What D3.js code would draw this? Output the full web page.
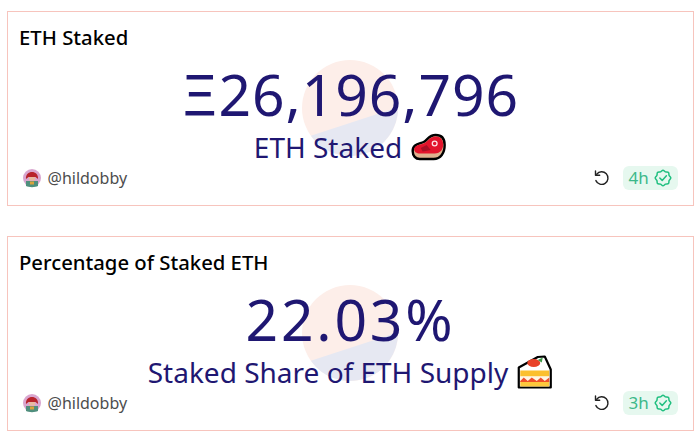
<!DOCTYPE html>
<html>
<head>
<meta charset="utf-8">
<script src="https://cdn.jsdelivr.net/npm/d3@7"></script>
<style>
  html, body { margin: 0; padding: 0; background: #fff; }
  svg { display: block; }
  text { font-family: "Noto Sans", sans-serif; }
</style>
</head>
<body>
<svg id="chart" width="699" height="438"></svg>
<script>
// Card contents
const titles = ["ETH Staked", "Percentage of Staked ETH"];
const counterValues = ["Ξ26,196,796", "22.03%"];
const counterLabels = ["ETH Staked", "Staked Share of ETH Supply"];
const emojis = ["steak", "cake"];
const authors = ["@hildobby", "@hildobby"];
const ages = ["4h", "3h"];
// Noto digits run a bit narrower than the original font
const valueSpacing = [0.9, 2.8];

const cardX = 7.5, cardW = 686, cardH = 194;
const cardTops = d3.scaleOrdinal().domain(titles).range([11.5, 236.5]);

const svg = d3.select("#chart");

function drawLogo(g) {
  const r = 48;
  g.append("circle").attr("r", r).attr("fill", "#fdeee9");
  // lower segment, cut off by a straight chord
  const p = d3.path();
  p.arc(0, 0, r, -1 * Math.PI / 180, 144.6 * Math.PI / 180);
  p.closePath();
  g.append("path").attr("d", p.toString()).attr("fill", "#e6e8f2");
}

function drawSteak(g) {
  g.append("path")
    .attr("d", "M1 17 C1 10 8 10 12 8 C16 6 17 1 24 1 C30 1 33 5 33 11 C33 19 29 25 22 25 L8 25 C4 25 1 22 1 17 Z")
    .attr("fill", "#dfb28f").attr("stroke", "#000").attr("stroke-width", 2.4);
  g.append("path")
    .attr("d", "M2.5 15 C3 11 8 11 12 9.5 C16 8 18 2.5 24 2.5 C29 2.5 31.5 6 31.5 10.5 C31.5 15 29 19.5 23 19.5 L8 19.5 C5 19.5 2.5 18 2.5 15 Z")
    .attr("fill", "#e3142c");
  g.append("circle").attr("cx", 23).attr("cy", 9.5).attr("r", 2.4)
    .attr("fill", "none").attr("stroke", "#fde3e3").attr("stroke-width", 1.3);
  g.append("path").attr("d", "M9 14 L15 11 L19 16 L11 17.5 Z").attr("fill", "#a90f25");
}

function drawCake(g) {
  g.append("path")
    .attr("d", "M1 32 L1 12 L20 1.5 L27 1 L33 14 L33 32 Z")
    .attr("fill", "#fff").attr("stroke", "#000").attr("stroke-width", 2.2).attr("stroke-linejoin", "round");
  g.append("rect").attr("x", 2.5).attr("y", 15).attr("width", 29).attr("height", 6).attr("fill", "#fbc02d");
  g.append("rect").attr("x", 2.5).attr("y", 21).attr("width", 29).attr("height", 4.5).attr("fill", "#fff6e0");
  g.append("rect").attr("x", 2.5).attr("y", 25.5).attr("width", 29).attr("height", 5.5).attr("fill", "#fdc83c");
  g.append("path").attr("d", "M2.5 25.5 L6 22 L10 25.5 L14 22 L19 25.5 L23 22 L27 25.5 L31.5 22 L31.5 26.5 L2.5 26.5 Z").attr("fill", "#ef4f2a");
  g.append("ellipse").attr("cx", 16).attr("cy", 7.5).attr("rx", 6.5).attr("ry", 4).attr("fill", "#e8432a");
  g.append("path").attr("d", "M20 4.5 L25 2 L24 7 Z").attr("fill", "#3f9a47");
}

function drawAvatar(g) {
  g.append("circle").attr("r", 9).attr("fill", "#d9a6cf");
  g.append("path").attr("d", "M-6 1 C-7 -8.5 7 -8.5 6 1 L3.5 -1 L-3.5 -1 Z").attr("fill", "#b8242c");
  g.append("rect").attr("x", -3).attr("y", -1).attr("width", 6).attr("height", 3.5).attr("fill", "#e8b9a0");
  g.append("path").attr("d", "M-6 8 L-6 3 L6 3 L6 8 C3 9.5 -3 9.5 -6 8 Z").attr("fill", "#4f8f7d");
  g.append("rect").attr("x", -2).attr("y", 3.5).attr("width", 4).attr("height", 3).attr("fill", "#d9a23c");
}

function drawRefresh(g) {
  g.append("path")
    .attr("d", "M-4.8 -3.8 A6.3 6.3 0 1 1 -5.6 2.6")
    .attr("fill", "none").attr("stroke", "#222").attr("stroke-width", 1.4).attr("stroke-linecap", "round");
  g.append("path")
    .attr("d", "M-6 -7 L-6 -2.8 L-1.8 -2.8")
    .attr("fill", "none").attr("stroke", "#222").attr("stroke-width", 1.4)
    .attr("stroke-linecap", "round").attr("stroke-linejoin", "round");
}

function drawSeal(g) {
  const points = d3.range(0, 16).map(i => {
    const a = i / 16 * 2 * Math.PI;
    return [a, i % 2 ? 6.6 : 7.8];
  });
  g.append("path")
    .attr("d", d3.lineRadial().curve(d3.curveCardinalClosed)(points))
    .attr("fill", "none").attr("stroke", "#1fbf7f").attr("stroke-width", 1.5);
  g.append("path").attr("d", "M-3.2 0 L-0.8 2.4 L3.4 -2.2")
    .attr("fill", "none").attr("stroke", "#1fbf7f").attr("stroke-width", 1.5)
    .attr("stroke-linecap", "round").attr("stroke-linejoin", "round");
}

titles.forEach((title, i) => {
  const card = svg.append("g").attr("transform", `translate(${cardX},${cardTops(title)})`);

  card.append("rect").attr("width", cardW).attr("height", cardH)
    .attr("fill", "#fff").attr("stroke", "#f7c4bd");

  // watermark behind the counter
  drawLogo(card.append("g").attr("transform", "translate(342.5,96.5)"));

  card.append("text").attr("x", 11.5).attr("y", 33.5)
    .attr("font-size", 20.3).attr("font-weight", 500).attr("fill", "#000").text(title);

  card.append("text").attr("x", 343).attr("y", 104.5)
    .attr("text-anchor", "middle").attr("font-size", 57).attr("fill", "#1f1772")
    .style("letter-spacing", valueSpacing[i] + "px")
    .text(counterValues[i]);

  // label and emoji are centred together
  const label = card.append("text").attr("y", 146.5)
    .attr("font-size", 28).attr("fill", "#1f1772").text(counterLabels[i]);
  const labelW = label.node().getComputedTextLength();
  const startX = 342.5 - (labelW + 44) / 2;
  label.attr("x", startX);
  const emoji = card.append("g").attr("transform", `translate(${startX + labelW + 9.5},${i ? 119 : 122.5})`);
  (emojis[i] === "steak" ? drawSteak : drawCake)(emoji);

  drawAvatar(card.append("g").attr("transform", "translate(24.5,166.5)"));
  card.append("text").attr("x", 40).attr("y", 172)
    .attr("font-size", 16).attr("fill", "#4d4d4d").text(authors[i]);

  drawRefresh(card.append("g").attr("transform", "translate(594,166.5)"));

  card.append("rect").attr("x", 615.5).attr("y", 154.5).attr("width", 55).attr("height", 24).attr("rx", 6)
    .attr("fill", "#e6f8ef");
  card.append("text").attr("x", 621).attr("y", 172.5)
    .attr("font-size", 17).attr("fill", "#3cb88a").text(ages[i]);
  drawSeal(card.append("g").attr("transform", "translate(655.5,166.5)"));
});
</script>
</body>
</html>
